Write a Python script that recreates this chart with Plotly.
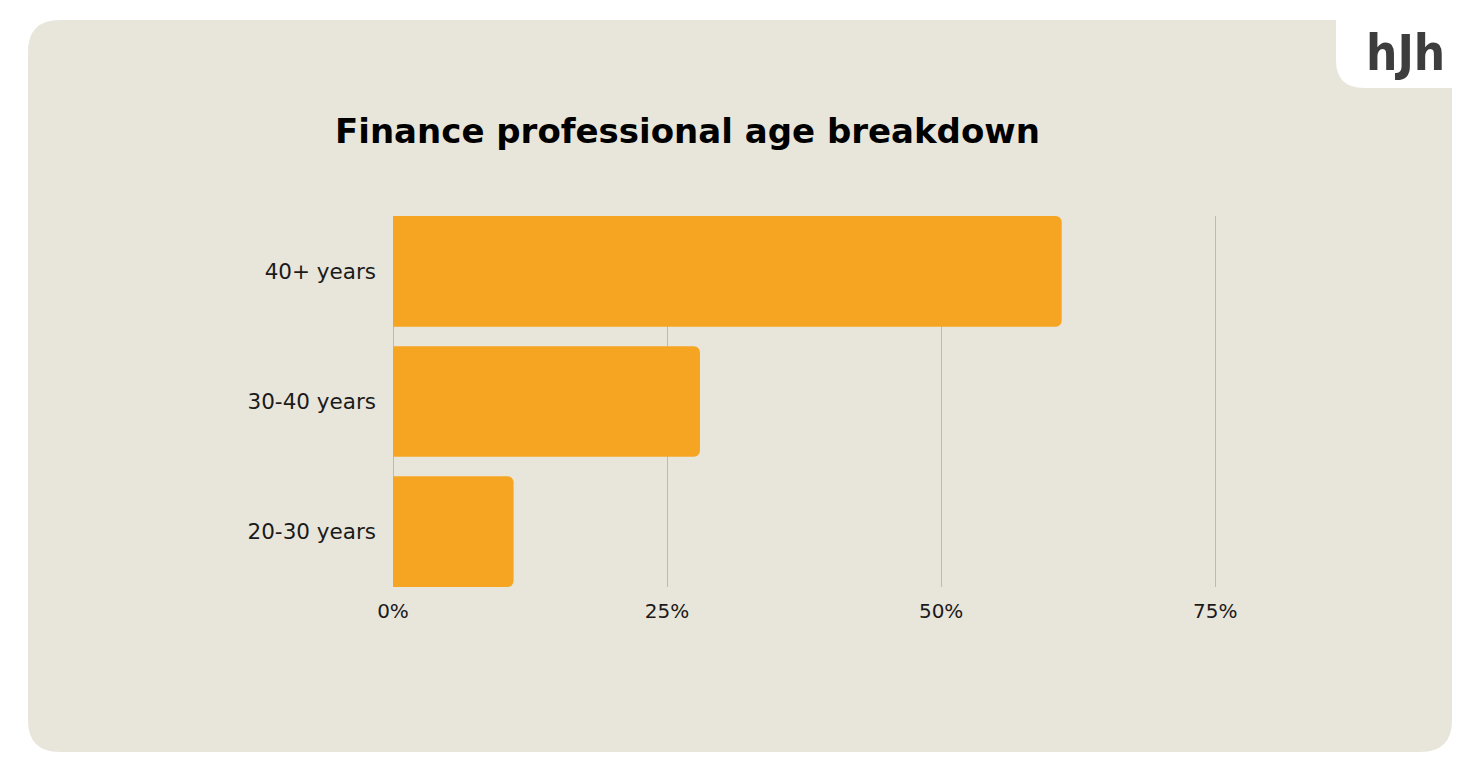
import plotly.graph_objects as go

# ---- data ----
categories = ["40+ years", "30-40 years", "20-30 years"]
shares = [61, 28, 11]
tick_vals = [0, 25, 50, 75]
tick_text = ["0%", "25%", "50%", "75%"]
title_text = "Finance professional age breakdown"
logo_text = "hJh"

# ---- geometry (pixels, page offset of 8px compensated) ----
W, H = 1480, 774
OFF = 8
PX0, PX1 = 393 - OFF, 1270 - OFF   # plot area left/right
PY0, PY1 = 216 - OFF, 587 - OFF    # plot area top/bottom

def px(x):
    return (x - OFF - PX0) / (PX1 - PX0)

def py(y):
    return (PY1 - (y - OFF)) / (PY1 - PY0)

def rrect(x0, y0, x1, y1, r):
    pts = [
        f"M {px(x0 + r)} {py(y0)}",
        f"L {px(x1 - r)} {py(y0)}",
        f"Q {px(x1)} {py(y0)} {px(x1)} {py(y0 + r)}",
        f"L {px(x1)} {py(y1 - r)}",
        f"Q {px(x1)} {py(y1)} {px(x1 - r)} {py(y1)}",
        f"L {px(x0 + r)} {py(y1)}",
        f"Q {px(x0)} {py(y1)} {px(x0)} {py(y1 - r)}",
        f"L {px(x0)} {py(y0 + r)}",
        f"Q {px(x0)} {py(y0)} {px(x0 + r)} {py(y0)}",
        "Z",
    ]
    return " ".join(pts)

BG = "#E8E5DB"
BAR = "#F6A522"
GRID = "#BDBAB1"
FONT = "DejaVu Sans, sans-serif"

fig = go.Figure(
    go.Bar(
        x=shares,
        y=categories,
        orientation="h",
        marker=dict(color=BAR, line=dict(width=0)),
        width=0.85,
        hoverinfo="skip",
    )
)

fig.update_layout(
    width=W,
    height=H,
    margin=dict(l=PX0, r=W - PX1, t=PY0, b=H - PY1, pad=0),
    paper_bgcolor="white",
    plot_bgcolor="rgba(0,0,0,0)",
    barcornerradius=6,
    showlegend=False,
    font=dict(family=FONT, color="#1a1a1a", size=21),
    xaxis=dict(
        range=[0, 80],
        tickvals=tick_vals,
        ticktext=tick_text,
        showgrid=True,
        gridcolor=GRID,
        gridwidth=1,
        zeroline=True,
        zerolinecolor=GRID,
        zerolinewidth=1,
        showline=False,
        ticks="",
        ticklabelstandoff=10,
        tickfont=dict(size=20, family=FONT, color="#1a1a1a"),
        fixedrange=True,
    ),
    yaxis=dict(
        categoryorder="array",
        categoryarray=categories,
        range=[2.425, -0.425],
        showgrid=False,
        zeroline=False,
        showline=False,
        ticks="",
        ticklabelstandoff=16,
        tickfont=dict(size=21.5, family=FONT, color="#1a1a1a"),
        fixedrange=True,
    ),
    shapes=[
        dict(type="path", xref="paper", yref="paper", layer="below",
             path=rrect(28, 20, 1452, 752, 32), fillcolor=BG, line=dict(width=0)),
        dict(type="path", xref="paper", yref="paper", layer="below",
             path=rrect(1336, -40, 1520, 88, 28), fillcolor="white", line=dict(width=0)),
    ],
    annotations=[
        dict(text=f"<b>{title_text}</b>", xref="paper", yref="paper",
             x=px(333), y=py(131), xanchor="left", yanchor="middle", showarrow=False,
             font=dict(size=34, family=FONT, color="#000000")),
        dict(text=f"<b>{logo_text}</b>", xref="paper", yref="paper",
             x=px(1405), y=py(53), xanchor="center", yanchor="middle", showarrow=False,
             font=dict(size=49, family="Liberation Sans Narrow, DejaVu Sans Condensed, sans-serif",
                       color="#3d3d3d")),
    ],
)

fig.write_html("out.html")
